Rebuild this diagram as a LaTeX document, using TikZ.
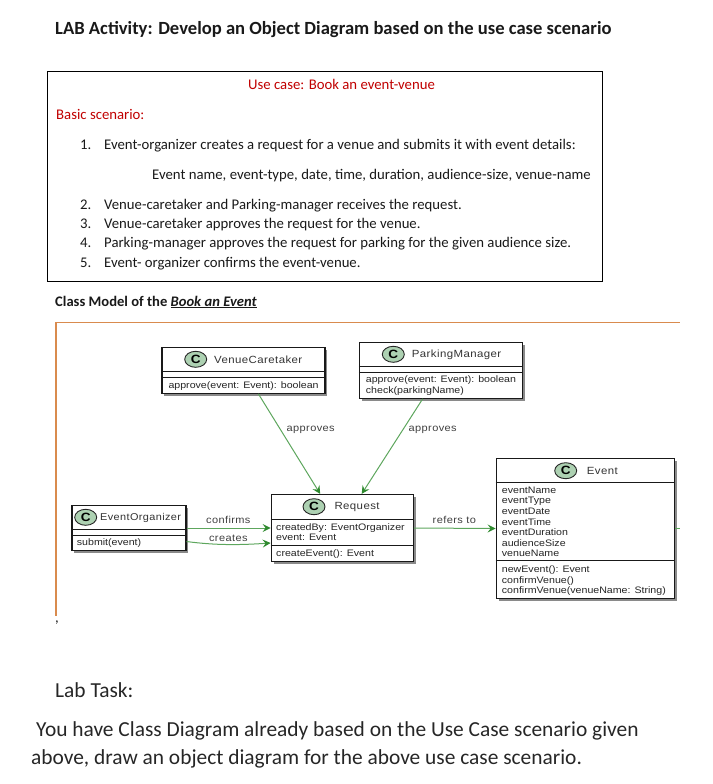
\documentclass[tikz,border=0pt]{standalone}
\usepackage{fontspec}
\setmainfont{Carlito}
\newfontfamily\umlfont[FakeStretch=1.13]{Liberation Sans}
\newfontfamily\umlwide[FakeStretch=1.1,LetterSpace=4]{Liberation Sans}
\usetikzlibrary{arrows.meta,calc,shadows,shapes.geometric}
\definecolor{linkgreen}{HTML}{5DA65D}
\definecolor{tipgreen}{HTML}{2F8A2F}
\definecolor{iconfill}{HTML}{ADD1B2}
\definecolor{framebrown}{HTML}{D98B4E}
\definecolor{scenred}{HTML}{C00000}

\begin{document}
\begin{tikzpicture}[
    x=1pt,y=-1pt,
    >=Stealth,
    body/.style={anchor=base west,inner sep=0pt,text=black!90,font=\fontsize{14.75}{17}\selectfont},
    red text/.style={body,text=scenred},
    big text/.style={anchor=base west,inner sep=0pt,text=black!85,font=\fontsize{21.4}{25}\selectfont},
    classbox/.style={draw=black!90,line width=1.2pt,fill=white,inner sep=0pt,
        drop shadow={shadow xshift=2.5pt,shadow yshift=-2.5pt,fill=black!70,opacity=.65}},
    classicon/.style={ellipse,draw=black!85,line width=.9pt,fill=iconfill,inner sep=0pt,
        minimum width=22pt,minimum height=16pt,font=\umlfont\bfseries\fontsize{12}{12}\selectfont},
    classname/.style={anchor=west,inner sep=0pt,text=black!80,font=\umlwide\fontsize{10.4}{11}\selectfont},
    member/.style={anchor=west,inner sep=0pt,align=left,text=black!85,font=\umlfont\fontsize{9.4}{10.6}\selectfont},
    sep/.style={line width=.9pt,draw=black!90},
    link/.style={draw=linkgreen,line width=1pt,-{Stealth[length=8pt,width=8pt,inset=3pt,color=tipgreen]}},
    linklabel/.style={inner sep=0pt,text=black!75,font=\umlwide\fontsize{10}{11}\selectfont},
]
\useasboundingbox (0,0) rectangle (712,784);

% Heading
\node[body,font=\bfseries\fontsize{18.6}{22}\selectfont] (title) at (55,35)
    {LAB Activity: Develop an Object Diagram based on the use case scenario};

% Scenario box
\node[draw=black,line width=.8pt,minimum width=555pt,minimum height=210pt,inner sep=0pt] (scenario) at (324.5,176) {};
\node[red text] (usecase) at (248,89.5) {Use case: Book an event-venue};
\node[red text] (basic) at (56,119.5) {Basic scenario:};
\node[body] (num1) at (80,149) {1.};
\node[body] (item1) at (104,149) {Event-organizer creates a request for a venue and submits it with event details:};
\node[body] (details) at (152,179) {Event name, event-type, date, time, duration, audience-size, venue-name};
\node[body] (num2) at (80,209) {2.};
\node[body] (item2) at (104,209) {Venue-caretaker and Parking-manager receives the request.};
\node[body] (num3) at (80,228.5) {3.};
\node[body] (item3) at (104,228.5) {Venue-caretaker approves the request for the venue.};
\node[body] (num4) at (80,247.5) {4.};
\node[body] (item4) at (104,247.5) {Parking-manager approves the request for parking for the given audience size.};
\node[body] (num5) at (80,267) {5.};
\node[body] (item5) at (104,267) {Event- organizer confirms the event-venue.};
\node[body,font=\bfseries\fontsize{14.6}{17}\selectfont] (modelhead) at (55,306)
    {Class Model of the \textit{\underline{Book an Event}}};

% Frame of the model
\draw[framebrown,line width=1pt] (55.7,322.7) -- (680,322.7);
\draw[framebrown,line width=1.6pt] (55.7,322.2) -- (55.7,616);

% Classes
\node[classbox,minimum width=163pt,minimum height=46pt] (venue) at (243.4,370.3) {};
\node[classbox,minimum width=114pt,minimum height=45pt] (organizer) at (128.9,528) {};
\node[classbox,minimum width=142pt,minimum height=67pt] (request) at (342.2,528) {};
\node[classbox,minimum width=163pt,minimum height=56pt] (parking) at (441,370.2) {};
\node[classbox,minimum width=178pt,minimum height=140pt] (event) at (585.2,528.5) {};

% Compartments
\draw[sep] (venue.west |- 0,371) -- (venue.east |- 0,371);
\draw[sep] (venue.west |- 0,377.7) -- (venue.east |- 0,377.7);
\draw[sep] (organizer.west |- 0,529) -- (organizer.east |- 0,529);
\draw[sep] (organizer.west |- 0,535.7) -- (organizer.east |- 0,535.7);
\draw[sep] (request.west |- 0,519) -- (request.east |- 0,519);
\draw[sep] (request.west |- 0,545) -- (request.east |- 0,545);
\draw[sep] (parking.west |- 0,366) -- (parking.east |- 0,366);
\draw[sep] (parking.west |- 0,372.3) -- (parking.east |- 0,372.3);
\draw[sep] (event.west |- 0,482.7) -- (event.east |- 0,482.7);
\draw[sep] (event.west |- 0,560.7) -- (event.east |- 0,560.7);

% Icons and names
\node[classicon] (venueicon) at (195.7,359.3) {C};
\node[classname] (venuename) at (214,359.8) {VenueCaretaker};
\node[classicon] (organizericon) at (85.7,517.3) {C};
\node[classname,font=\umlwide\fontsize{9.9}{11}\selectfont] (organizername) at (100,517.8) {EventOrganizer};
\node[classicon] (requesticon) at (314,506.7) {C};
\node[classname] (requestname) at (334.3,507.2) {Request};
\node[classicon] (parkingicon) at (393.3,354.3) {C};
\node[classname] (parkingname) at (411.7,354.8) {ParkingManager};
\node[classicon] (eventicon) at (565.7,470.7) {C};
\node[classname] (eventname) at (586.7,471.2) {Event};

% Members
\node[member] (venueops) at (168.3,385.7) {approve(event: Event): boolean};
\node[member] (organizerops) at (76.7,543.3) {submit(event)};
\node[member] (requestattrs) at (276,532) {createdBy: EventOrganizer\\event: Event};
\node[member] (requestops) at (276,554) {createEvent(): Event};
\node[member] (parkingops) at (365.7,385.8) {approve(event: Event): boolean\\check(parkingName)};
\node[member] (eventattrs) at (501.7,522) {eventName\\eventType\\eventDate\\eventTime\\eventDuration\\audienceSize\\venueName};
\node[member] (eventops) at (501.7,580.7) {newEvent(): Event\\confirmVenue()\\confirmVenue(venueName: String)};

% Connectors
\coordinate (stub) at (680,528.5);
\draw[link] ([xshift=15pt]venue.south) -- ([xshift=-22pt]request.north);
\draw[link] ([xshift=-18.3pt]parking.south) -- ([xshift=19.5pt]request.north);
\draw[link] (organizer.east) -- (request.west);
\draw[link] ([yshift=-13.5pt]organizer.east) .. controls +(30,4) and +(-30,2) .. ([yshift=-15pt]request.west);
\draw[link] (request.east) -- (event.west);
\draw[draw=linkgreen,line width=1pt] (event.east) -- (stub);

% Connector labels
\node[linklabel] (approvesa) at (310.7,430) {approves};
\node[linklabel] (approvesb) at (432.7,430) {approves};
\node[linklabel] (confirms) at (228.3,520) {confirms};
\node[linklabel] (creates) at (228.3,538) {creates};
\node[linklabel] (refers) at (454.3,520) {refers to};

% Lab task
\node[body] (comma) at (55,622) {,};
\node[big text] (labtask) at (55,697) {Lab Task:};
\node[big text] (taska) at (36,736) {You have Class Diagram already based on the Use Case scenario given};
\node[big text] (taskb) at (31,764) {above, draw an object diagram for the above use case scenario.};
\end{tikzpicture}
\end{document}
